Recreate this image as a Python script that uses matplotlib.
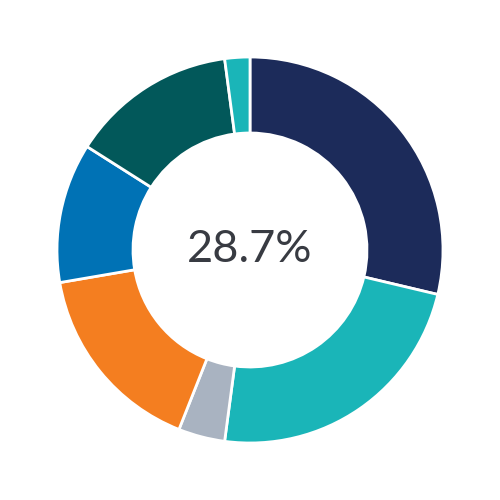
import matplotlib
matplotlib.use("Agg")
import matplotlib.pyplot as plt

categories = ["Navy", "Teal", "Grey", "Orange", "Blue", "Dark Teal", "Light Teal"]
values = [28.7, 23.4, 3.9, 16.3, 11.7, 13.9, 2.1]
colors = ["#1c2b5a", "#1ab5b8", "#a9b3c1", "#f47e20", "#0072b5", "#02585a", "#1ab5b8"]
center_label = "28.7%"

fig = plt.figure(figsize=(5, 5), dpi=100)
ax = fig.add_axes([0, 0, 1, 1])
ax.pie(values, colors=colors, startangle=90, counterclock=False, radius=193,
       wedgeprops=dict(width=76, edgecolor="white", linewidth=2.0))
ax.set_xlim(-250, 250)
ax.set_ylim(-250, 250)
ax.set_aspect("equal")
ax.axis("off")
ax.text(0, 1, center_label, ha="center", va="center", fontsize=32.5,
        color="#383b42", family=["Lato", "DejaVu Sans"])
fig.savefig("out.png", dpi=100, facecolor="white")
